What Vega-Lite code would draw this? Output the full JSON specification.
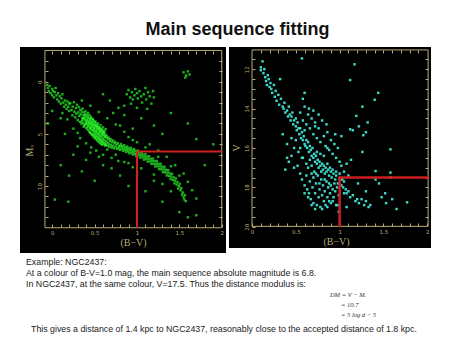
{
"$schema":"https://vega.github.io/schema/vega-lite/v6.json",
"background":"white",
"padding":{"left":20,"top":21,"right":0,"bottom":0},
"title":{"text":"Main sequence fitting","font":"Liberation Sans","fontSize":18,"fontWeight":"bold","color":"#111","anchor":"middle","dx":12,"offset":8},
"config":{"view":{"stroke":null},"axis":{"labelColor":"#b9ad74","tickColor":"#b9ad74","titleColor":"#b9ad74","labelFont":"DejaVu Sans","labelFontSize":5.5,"titleFont":"Liberation Serif","titleFontSize":10,"titleFontWeight":"normal","grid":false,"domain":false}},
"datasets":{
"L":[{"x":-0.06,"y":0.3},{"x":-0.05,"y":0.6},{"x":-0.04,"y":0.9},{"x":-0.03,"y":0.4},{"x":-0.02,"y":1.1},{"x":0.0,"y":0.7},{"x":0.0,"y":1.3},{"x":0.01,"y":0.9},{"x":0.02,"y":1.5},{"x":0.03,"y":1.0},{"x":0.04,"y":0.6},{"x":0.05,"y":1.3},{"x":0.06,"y":1.7},{"x":0.07,"y":1.1},{"x":0.08,"y":1.9},{"x":0.09,"y":1.4},{"x":0.1,"y":2.1},{"x":0.11,"y":1.6},{"x":0.12,"y":1.2},{"x":0.13,"y":2.0},{"x":0.14,"y":2.4},{"x":0.15,"y":1.8},{"x":0.16,"y":2.2},{"x":0.17,"y":2.6},{"x":0.18,"y":1.9},{"x":0.19,"y":2.4},{"x":0.2,"y":2.8},{"x":0.2,"y":2.1},
{"x":0.213,"y":2.05},{"x":0.227,"y":2.71},{"x":0.238,"y":3.22},{"x":0.241,"y":2.38},{"x":0.256,"y":1.96},{"x":0.262,"y":2.87},{"x":0.271,"y":3.41},{"x":0.279,"y":2.52},{"x":0.284,"y":3.06},{"x":0.293,"y":2.21},{"x":0.301,"y":3.67},{"x":0.308,"y":2.94},{"x":0.312,"y":2.43},{"x":0.319,"y":3.28},{"x":0.326,"y":3.85},{"x":0.331,"y":2.69},{"x":0.337,"y":3.12},{"x":0.344,"y":4.02},{"x":0.349,"y":2.87},{"x":0.353,"y":3.49},{"x":0.358,"y":2.58},{"x":0.362,"y":3.93},{"x":0.367,"y":3.21},{"x":0.371,"y":4.31},{"x":0.376,"y":2.95},{"x":0.381,"y":3.62},{"x":0.384,"y":4.12},{"x":0.389,"y":3.37},{"x":0.393,"y":2.84},{"x":0.397,"y":3.81},{"x":0.402,"y":4.45},{"x":0.405,"y":3.15},{"x":0.409,"y":3.72},{"x":0.413,"y":4.08},{"x":0.417,"y":3.44},{"x":0.421,"y":4.61},{"x":0.424,"y":2.99},{"x":0.428,"y":3.88},{"x":0.431,"y":4.27},{"x":0.435,"y":3.53},{"x":0.438,"y":4.79},{"x":0.441,"y":3.21},{"x":0.445,"y":4.02},{"x":0.448,"y":4.43},{"x":0.452,"y":3.68},{"x":0.455,"y":4.95},{"x":0.458,"y":3.39},{"x":0.461,"y":4.17},{"x":0.464,"y":4.58},{"x":0.467,"y":3.84},{"x":0.471,"y":5.12},{"x":0.474,"y":3.57},{"x":0.477,"y":4.33},{"x":0.48,"y":4.71},{"x":0.483,"y":3.99},{"x":0.486,"y":5.26},{"x":0.489,"y":3.74},{"x":0.492,"y":4.49},{"x":0.495,"y":4.87},{"x":0.498,"y":4.12},{"x":0.501,"y":5.38},{"x":0.504,"y":3.89},{"x":0.507,"y":4.62},{"x":0.51,"y":5.02},{"x":0.513,"y":4.27},{"x":0.516,"y":5.51},{"x":0.519,"y":4.03},{"x":0.522,"y":4.78},{"x":0.525,"y":5.15},{"x":0.528,"y":4.41},{"x":0.531,"y":5.63},{"x":0.534,"y":4.19},{"x":0.537,"y":4.93},{"x":0.54,"y":5.29},{"x":0.543,"y":4.56},{"x":0.546,"y":5.74},{"x":0.549,"y":4.35},{"x":0.552,"y":5.06},{"x":0.555,"y":5.41},{"x":0.558,"y":4.71},{"x":0.561,"y":5.86},{"x":0.564,"y":4.48},{"x":0.567,"y":5.19},{"x":0.57,"y":5.55},{"x":0.573,"y":4.84},{"x":0.576,"y":5.97},{"x":0.579,"y":4.63},{"x":0.582,"y":5.33},{"x":0.585,"y":5.67},{"x":0.588,"y":4.98},{"x":0.592,"y":6.05},{"x":0.595,"y":4.78},{"x":0.598,"y":5.46},{"x":0.602,"y":5.79},{"x":0.605,"y":5.11},{"x":0.609,"y":4.92},{"x":0.613,"y":5.58},{"x":0.617,"y":5.91},{"x":0.621,"y":5.24},{"x":0.625,"y":6.12},{"x":0.629,"y":5.07},{"x":0.633,"y":5.71},{"x":0.637,"y":6.01},{"x":0.641,"y":5.38},{"x":0.645,"y":5.22},{"x":0.65,"y":5.83},{"x":0.655,"y":6.15},{"x":0.66,"y":5.52},{"x":0.665,"y":5.36},{"x":0.67,"y":5.95},{"x":0.676,"y":6.23},{"x":0.682,"y":5.66},{"x":0.688,"y":5.49},{"x":0.694,"y":6.06},{"x":0.7,"y":6.31},{"x":0.707,"y":5.79},{"x":0.714,"y":5.62},{"x":0.721,"y":6.16},{"x":0.728,"y":6.39},{"x":0.735,"y":5.91},{"x":0.742,"y":5.76},{"x":0.75,"y":6.26},{"x":0.758,"y":6.02},{"x":0.766,"y":6.44},{"x":0.774,"y":5.88},{"x":0.782,"y":6.35},{"x":0.79,"y":6.13},{"x":0.798,"y":6.52},
{"x":0.352,"y":3.74},{"x":0.366,"y":3.58},{"x":0.378,"y":4.21},{"x":0.391,"y":4.05},{"x":0.404,"y":3.92},{"x":0.416,"y":4.36},{"x":0.427,"y":4.14},{"x":0.439,"y":3.96},{"x":0.451,"y":4.52},{"x":0.462,"y":4.31},{"x":0.473,"y":4.09},{"x":0.484,"y":4.66},{"x":0.496,"y":4.44},{"x":0.508,"y":4.23},{"x":0.519,"y":4.83},{"x":0.531,"y":4.57},{"x":0.542,"y":4.37},{"x":0.553,"y":4.97},{"x":0.565,"y":4.74},{"x":0.576,"y":4.52},{"x":0.588,"y":5.12},{"x":0.599,"y":4.89},{"x":0.611,"y":4.69},{"x":0.622,"y":5.28},{"x":0.373,"y":3.45},{"x":0.388,"y":3.17},{"x":0.407,"y":3.61},{"x":0.419,"y":3.29},{"x":0.436,"y":3.77},{"x":0.449,"y":3.51},{"x":0.466,"y":3.94},{"x":0.479,"y":3.63},{"x":0.493,"y":4.16},{"x":0.511,"y":3.82},{"x":0.526,"y":4.29},{"x":0.541,"y":4.01},{"x":0.556,"y":4.47},{"x":0.571,"y":4.18},{"x":0.586,"y":4.66},{"x":0.601,"y":4.38},{"x":0.616,"y":4.84},{"x":0.632,"y":4.55},{"x":0.447,"y":4.87},{"x":0.469,"y":5.02},{"x":0.489,"y":5.09},{"x":0.506,"y":5.24},{"x":0.523,"y":5.33},{"x":0.547,"y":5.47},{"x":0.566,"y":5.61},{"x":0.583,"y":5.79},{"x":0.603,"y":5.93},{"x":0.628,"y":6.08},
{"x":0.803,"y":6.21},{"x":0.812,"y":5.97},{"x":0.819,"y":6.43},{"x":0.826,"y":6.18},{"x":0.834,"y":6.62},{"x":0.841,"y":6.35},{"x":0.849,"y":6.09},{"x":0.856,"y":6.54},{"x":0.864,"y":6.28},{"x":0.871,"y":6.73},{"x":0.879,"y":6.47},{"x":0.887,"y":6.22},{"x":0.894,"y":6.66},{"x":0.902,"y":6.41},{"x":0.91,"y":6.86},{"x":0.918,"y":6.59},{"x":0.926,"y":6.34},{"x":0.934,"y":6.79},{"x":0.942,"y":6.53},{"x":0.95,"y":6.98},{"x":0.958,"y":6.71},{"x":0.967,"y":6.46},{"x":0.975,"y":6.92},{"x":0.983,"y":6.66},{"x":0.991,"y":7.11},{"x":1.0,"y":6.84},{"x":1.009,"y":6.6},{"x":1.018,"y":7.06},{"x":1.027,"y":6.8},{"x":1.036,"y":7.27},{"x":1.045,"y":7.01},{"x":1.054,"y":6.77},{"x":1.063,"y":7.24},{"x":1.072,"y":6.98},{"x":1.081,"y":7.46},{"x":1.09,"y":7.2},{"x":1.099,"y":6.95},{"x":1.108,"y":7.43},{"x":1.117,"y":7.17},{"x":1.126,"y":7.66},{"x":1.135,"y":7.4},{"x":1.144,"y":7.15},{"x":1.153,"y":7.64},{"x":1.162,"y":7.38},{"x":1.171,"y":7.88},{"x":1.18,"y":7.62},{"x":1.189,"y":7.37},{"x":1.198,"y":7.87},{"x":1.207,"y":7.61},{"x":1.216,"y":8.12},{"x":1.225,"y":7.86},{"x":1.234,"y":7.6},{"x":1.243,"y":8.11},{"x":1.252,"y":7.86},{"x":1.261,"y":8.38},{"x":1.27,"y":8.12},{"x":1.279,"y":7.87},{"x":1.288,"y":8.39},{"x":1.297,"y":8.14},{"x":1.306,"y":8.67},{"x":1.315,"y":8.41},{"x":1.324,"y":8.16},{"x":1.333,"y":8.69},{"x":1.342,"y":8.44},{"x":1.351,"y":8.98},{"x":1.36,"y":8.72},{"x":1.369,"y":8.48},{"x":1.378,"y":9.03},{"x":1.387,"y":8.78},{"x":1.396,"y":9.33},{"x":1.405,"y":9.08},{"x":1.414,"y":8.84},{"x":1.423,"y":9.41},{"x":1.432,"y":9.17},{"x":1.441,"y":9.74},{"x":1.45,"y":9.5},{"x":1.459,"y":9.27},{"x":1.468,"y":9.86},{"x":1.477,"y":9.63},{"x":1.486,"y":10.23},{"x":1.495,"y":10.01},{"x":1.504,"y":9.79},{"x":1.513,"y":10.41},{"x":1.522,"y":10.2},{"x":1.531,"y":10.82},{"x":1.54,"y":10.62},{"x":1.549,"y":11.05},{"x":1.558,"y":11.28},{"x":1.566,"y":10.87},{"x":1.575,"y":11.45},
{"x":0.25,"y":4.5},{"x":0.3,"y":4.9},{"x":0.33,"y":5.4},{"x":0.4,"y":5.9},{"x":0.46,"y":6.3},{"x":0.52,"y":6.6},{"x":0.6,"y":7.0},{"x":0.7,"y":7.3},{"x":0.18,"y":3.6},{"x":0.12,"y":3.0},{"x":0.35,"y":1.8},{"x":0.45,"y":2.3},{"x":0.55,"y":2.9},{"x":0.65,"y":3.5},{"x":0.75,"y":4.1},{"x":0.85,"y":4.8},{"x":0.95,"y":5.6},{"x":1.1,"y":6.3},{"x":1.25,"y":7.2},{"x":1.4,"y":8.1},{"x":1.5,"y":9.0},{"x":1.3,"y":9.8},{"x":1.2,"y":8.9},{"x":1.05,"y":8.3},{"x":0.9,"y":7.8},{"x":0.78,"y":7.6},
{"x":0.88,"y":1.2},{"x":0.9,"y":0.8},{"x":0.92,"y":1.5},{"x":0.94,"y":1.0},{"x":0.95,"y":1.7},{"x":0.97,"y":1.3},{"x":0.98,"y":0.7},{"x":1.0,"y":1.1},{"x":1.01,"y":1.6},{"x":1.03,"y":0.9},{"x":1.05,"y":1.4},{"x":1.06,"y":2.0},{"x":1.08,"y":1.2},{"x":1.1,"y":0.6},{"x":1.11,"y":1.7},{"x":1.13,"y":1.0},{"x":1.15,"y":1.4},{"x":1.17,"y":2.1},{"x":1.19,"y":0.9},{"x":1.2,"y":1.5},{"x":0.85,"y":2.3},{"x":1.0,"y":2.5},{"x":1.12,"y":2.6},{"x":0.93,"y":2.1},
{"x":1.55,"y":-0.9},{"x":1.58,"y":-0.6},{"x":1.6,"y":-1.0},{"x":1.62,"y":-0.7},{"x":1.57,"y":-0.4},
{"x":0.03,"y":11.3},{"x":0.19,"y":11.5},{"x":0.3,"y":6.2},{"x":0.25,"y":7.0},{"x":0.4,"y":7.5},{"x":0.45,"y":6.8},{"x":0.55,"y":7.2},{"x":0.6,"y":8.0},{"x":0.7,"y":8.3},{"x":0.5,"y":9.5},{"x":0.8,"y":9.0},{"x":0.9,"y":10.0},{"x":1.1,"y":10.5},{"x":1.3,"y":11.5},{"x":1.5,"y":12.5},{"x":1.7,"y":12.8},{"x":0.35,"y":8.6},{"x":1.8,"y":8.0},{"x":1.9,"y":6.0},{"x":1.7,"y":5.5},{"x":1.6,"y":4.0},{"x":1.4,"y":3.0},{"x":1.3,"y":5.0},{"x":1.2,"y":4.2},{"x":1.05,"y":3.5},{"x":0.95,"y":4.5},{"x":0.85,"y":3.2},{"x":0.78,"y":2.5},{"x":0.68,"y":1.8},{"x":0.6,"y":1.2},{"x":0.72,"y":3.0},{"x":0.8,"y":4.2},{"x":0.9,"y":5.3},{"x":1.0,"y":5.8},{"x":1.15,"y":6.0},{"x":1.25,"y":6.6},{"x":1.35,"y":7.2},{"x":1.45,"y":8.0},{"x":1.55,"y":8.8},{"x":1.6,"y":9.6},{"x":1.65,"y":10.4},{"x":1.7,"y":11.2},{"x":0.15,"y":5.0},{"x":0.1,"y":3.5},{"x":0.0,"y":2.8},{"x":-0.05,"y":4.0},{"x":0.65,"y":6.5},{"x":0.75,"y":7.0},{"x":0.85,"y":7.7},{"x":0.95,"y":8.2},{"x":1.0,"y":9.0},{"x":1.2,"y":9.5},{"x":1.4,"y":10.5},{"x":1.6,"y":13.0},{"x":0.2,"y":9.0},{"x":0.1,"y":8.0}],
"R":[{"x":0.10,"y":11.9},{"x":0.10,"y":12.05},{"x":0.12,"y":11.6},{"x":0.13,"y":12.2},{"x":0.14,"y":12.0},{"x":0.15,"y":12.4},{"x":0.16,"y":12.6},{"x":0.18,"y":12.3},{"x":0.17,"y":12.8},{"x":0.19,"y":12.5},{"x":0.20,"y":12.9},{"x":0.22,"y":13.0},{"x":0.21,"y":12.7},{"x":0.23,"y":13.2},{"x":0.25,"y":12.8},{"x":0.26,"y":13.4},{"x":0.27,"y":13.1},{"x":0.28,"y":13.6},{"x":0.30,"y":13.3},{"x":0.32,"y":12.5},{"x":0.31,"y":13.8},{"x":0.33,"y":13.5},{"x":0.35,"y":13.9},{"x":0.36,"y":14.0},{"x":0.37,"y":13.7},{"x":0.38,"y":14.2},{"x":0.40,"y":14.1},{"x":0.41,"y":14.4},{"x":0.42,"y":13.9},{"x":0.43,"y":14.3},{"x":0.44,"y":14.6},{"x":0.45,"y":14.4},{"x":0.46,"y":14.2},{"x":0.47,"y":14.8},{"x":0.48,"y":14.6},{"x":0.50,"y":14.5},{"x":0.50,"y":14.9},{"x":0.51,"y":15.1},{"x":0.52,"y":14.7},{"x":0.53,"y":15.0},{"x":0.54,"y":15.3},{"x":0.55,"y":15.0},{"x":0.56,"y":15.5},{"x":0.57,"y":15.2},{"x":0.58,"y":15.6},{"x":0.59,"y":15.4},{"x":0.60,"y":15.8},{"x":0.60,"y":15.1},{"x":0.61,"y":15.9},{"x":0.62,"y":15.6},{"x":0.63,"y":16.0},{"x":0.64,"y":15.7},{"x":0.65,"y":16.2},{"x":0.66,"y":15.9},{"x":0.67,"y":16.1},{"x":0.68,"y":16.4},{"x":0.69,"y":16.0},{"x":0.70,"y":16.5},{"x":0.71,"y":16.3},{"x":0.72,"y":16.7},{"x":0.73,"y":16.4},{"x":0.74,"y":16.8},{"x":0.75,"y":16.6},{"x":0.76,"y":17.0},{"x":0.77,"y":16.7},{"x":0.78,"y":16.9},{"x":0.79,"y":17.2},{"x":0.80,"y":16.8},{"x":0.81,"y":17.1},{"x":0.82,"y":16.9},{"x":0.83,"y":17.3},{"x":0.84,"y":17.0},{"x":0.85,"y":17.2},{"x":0.86,"y":16.8},{"x":0.87,"y":17.1},{"x":0.88,"y":17.4},{"x":0.89,"y":17.0},{"x":0.90,"y":17.2},{"x":0.91,"y":17.5},{"x":0.92,"y":17.1},{"x":0.93,"y":17.3},{"x":0.95,"y":17.6},{"x":0.96,"y":17.4},{"x":0.98,"y":17.8},{"x":1.00,"y":17.6},{"x":1.02,"y":17.9},{"x":1.04,"y":18.0},{"x":1.05,"y":17.7},{"x":1.07,"y":18.1},{"x":1.08,"y":18.3},{"x":1.10,"y":18.2},{"x":1.12,"y":18.5},{"x":1.15,"y":18.4},{"x":1.18,"y":18.7},{"x":1.20,"y":18.6},{"x":1.22,"y":18.8},{"x":1.25,"y":18.6},{"x":1.28,"y":18.9},{"x":1.30,"y":18.7},{"x":1.33,"y":19.0},{"x":1.35,"y":18.9},
{"x":1.17,"y":11.75},{"x":1.12,"y":12.55},{"x":1.44,"y":13.2},{"x":1.40,"y":13.55},{"x":1.26,"y":13.9},{"x":1.19,"y":14.37},{"x":1.22,"y":14.9},{"x":1.32,"y":14.7},{"x":1.12,"y":15.05},{"x":1.15,"y":15.1},{"x":1.30,"y":15.2},{"x":1.27,"y":15.35},{"x":1.02,"y":15.4},{"x":1.58,"y":16.07},{"x":1.26,"y":16.2},{"x":1.13,"y":16.6},{"x":1.41,"y":17.17},{"x":1.58,"y":17.25},{"x":1.58,"y":17.5},{"x":1.41,"y":17.6},{"x":1.45,"y":17.8},{"x":1.21,"y":17.8},{"x":1.30,"y":18.2},{"x":1.52,"y":18.3},{"x":1.48,"y":18.5},{"x":1.53,"y":18.8},{"x":1.60,"y":18.6},{"x":1.77,"y":18.76},{"x":1.65,"y":19.1},{"x":0.98,"y":18.9},{"x":0.99,"y":19.24},{"x":1.05,"y":18.3},{"x":1.08,"y":19.0},{"x":0.57,"y":11.45},
{"x":0.38,"y":17.1},{"x":0.42,"y":16.7},{"x":0.45,"y":16.4},{"x":0.48,"y":17.0},{"x":0.52,"y":16.9},{"x":0.55,"y":17.3},{"x":0.57,"y":17.6},{"x":0.58,"y":16.5},{"x":0.60,"y":17.9},{"x":0.62,"y":17.4},{"x":0.63,"y":18.1},{"x":0.64,"y":17.0},{"x":0.65,"y":18.3},{"x":0.66,"y":17.7},{"x":0.67,"y":18.6},{"x":0.68,"y":16.9},{"x":0.69,"y":18.0},{"x":0.70,"y":17.5},{"x":0.70,"y":18.8},{"x":0.71,"y":17.2},{"x":0.72,"y":18.3},{"x":0.73,"y":17.8},{"x":0.74,"y":18.9},{"x":0.75,"y":17.4},{"x":0.76,"y":18.5},{"x":0.77,"y":18.1},{"x":0.78,"y":19.0},{"x":0.79,"y":17.6},{"x":0.80,"y":18.4},{"x":0.81,"y":17.9},{"x":0.82,"y":18.7},{"x":0.83,"y":18.2},{"x":0.84,"y":18.9},{"x":0.85,"y":17.7},{"x":0.86,"y":18.5},{"x":0.87,"y":18.0},{"x":0.88,"y":18.7},{"x":0.89,"y":18.3},{"x":0.90,"y":17.9},{"x":0.90,"y":18.8},{"x":0.92,"y":18.1},{"x":0.93,"y":18.5},{"x":0.94,"y":17.8},{"x":0.95,"y":18.2},{"x":0.96,"y":18.9},{"x":0.97,"y":18.0},{"x":0.99,"y":18.4},
{"x":0.55,"y":14.2},{"x":0.58,"y":14.6},{"x":0.60,"y":13.9},{"x":0.62,"y":14.8},{"x":0.64,"y":14.3},{"x":0.66,"y":15.0},{"x":0.68,"y":14.5},{"x":0.70,"y":15.3},{"x":0.72,"y":14.9},{"x":0.74,"y":15.5},{"x":0.76,"y":15.0},{"x":0.78,"y":15.7},{"x":0.80,"y":14.6},{"x":0.82,"y":15.4},{"x":0.84,"y":15.9},{"x":0.86,"y":15.2},{"x":0.88,"y":16.1},{"x":0.90,"y":15.6},{"x":0.92,"y":16.3},{"x":0.94,"y":15.8},{"x":0.96,"y":16.5},{"x":0.98,"y":16.0},{"x":0.60,"y":13.2},{"x":0.58,"y":13.5},{"x":0.70,"y":14.1},{"x":0.76,"y":14.3},{"x":0.85,"y":14.8},{"x":0.95,"y":15.3},{"x":1.00,"y":16.7},{"x":1.02,"y":16.9},{"x":1.05,"y":17.2},{"x":1.08,"y":16.8},{"x":1.10,"y":17.4},{"x":0.65,"y":14.0},{"x":0.72,"y":14.7},
{"x":0.35,"y":15.3},{"x":0.40,"y":15.8},{"x":0.45,"y":15.5},{"x":0.48,"y":16.0},{"x":0.50,"y":15.6},{"x":0.53,"y":16.2},{"x":0.55,"y":16.0},{"x":0.57,"y":16.5},{"x":0.40,"y":16.5},{"x":0.62,"y":16.8},{"x":0.66,"y":16.6},{"x":0.74,"y":16.2},{"x":0.78,"y":16.3},{"x":0.82,"y":16.4},{"x":0.86,"y":16.0},{"x":0.68,"y":17.3},{"x":0.73,"y":17.3},{"x":0.77,"y":17.8},{"x":0.83,"y":17.6},{"x":0.88,"y":17.8},{"x":0.60,"y":18.3},{"x":0.64,"y":18.5},{"x":0.68,"y":18.9},{"x":0.72,"y":19.1},{"x":0.80,"y":19.1},{"x":0.86,"y":19.0},{"x":0.92,"y":18.7},{"x":0.96,"y":17.2},{"x":1.00,"y":17.3},{"x":1.03,"y":17.6}],
"TXT":[{"t":"Example: NGC2437:","c":0.0146,"r":0.82},{"t":"At a colour of B-V=1.0 mag, the main sequence absolute magnitude is 6.8.","c":0.0146,"r":1.82},{"t":"In NGC2437, at the same colour,  V=17.5.  Thus the distance modulus is:","c":0.0146,"r":2.82},{"t":"This gives a distance of 1.4 kpc to NGC2437, reasonably close to the accepted distance of 1.8 kpc.","c":0.0268,"r":6.91}],
"EQ":[{"t":"DM = V − Mᵥ","c":0.754,"r":3.82},{"t":"= 10.7","c":0.781,"r":4.73},{"t":"= 5 log d − 5","c":0.781,"r":5.64}]
},
"spacing":0,
"vconcat":[
{"hconcat":[
{"width":206,"height":206,"view":{"fill":"#000","stroke":null},
"layer":[
{"data":{"values":[{"x":-0.086,"x2":2.0,"y":-3,"y2":14}]},"mark":{"type":"rect","fill":null,"stroke":"#b9ad74","strokeWidth":1},
"encoding":{"x":{"field":"x","type":"quantitative","scale":{"domain":[-0.38,2.05],"nice":false,"zero":false},"axis":{"orient":"top","offset":-4,"values":[0,0.1,0.2,0.3,0.4,0.5,0.6,0.7,0.8,0.9,1,1.1,1.2,1.3,1.4,1.5,1.6,1.7,1.8,1.9],"labels":false,"title":null,"tickSize":-3}},"x2":{"field":"x2"},
"y":{"field":"y","type":"quantitative","scale":{"domain":[-3.33,16.42],"reverse":true,"nice":false,"zero":false},"axis":{"orient":"right","offset":-4,"values":[-2,-1,0,1,2,3,4,5,6,7,8,9,10,11,12,13],"labels":false,"title":null,"tickSize":-3}},"y2":{"field":"y2"}}},
{"data":{"name":"L"},"mark":{"type":"square","size":6,"color":"#2af52a","opacity":0.7},
"encoding":{"x":{"field":"x","type":"quantitative","axis":{"orient":"bottom","offset":-26,"values":[0,0.1,0.2,0.3,0.4,0.5,0.6,0.7,0.8,0.9,1,1.1,1.2,1.3,1.4,1.5,1.6,1.7,1.8,1.9,2],"format":"~g","labelExpr":"abs(datum.value*2-round(datum.value*2))<0.001 ? datum.label : ''","tickSize":-3,"labelPadding":6,"title":"(B−V)","titlePadding":2,"titleX":113}},
"y":{"field":"y","type":"quantitative","axis":{"orient":"left","offset":-25,"values":[-2,-1,0,1,2,3,4,5,6,7,8,9,10,11,12,13],"format":"d","labelExpr":"datum.value%5==0 ? datum.label : ''","tickSize":-3,"labelPadding":6,"labelAngle":270,"labelAlign":"center","labelBaseline":"bottom","title":"Mᵥ","titlePadding":3}}}},
{"data":{"values":[{"x":1,"x2":2.0,"y":6.7,"y2":6.7},{"x":1,"x2":1,"y":6.7,"y2":14}]},"mark":{"type":"rule","color":"#d42020","strokeWidth":2},
"encoding":{"x":{"field":"x","type":"quantitative","axis":null},"x2":{"field":"x2"},"y":{"field":"y","type":"quantitative","axis":null},"y2":{"field":"y2"}}}
]},
{"width":202,"height":201,"view":{"fill":"#000","stroke":null},
"layer":[
{"data":{"values":[{"x":0,"x2":2.01,"y":11.02,"y2":19.98}]},"mark":{"type":"rect","fill":null,"stroke":"#b9ad74","strokeWidth":1},
"encoding":{"x":{"field":"x","type":"quantitative","scale":{"domain":[-0.263,2.043],"nice":false,"zero":false},"axis":{"orient":"top","offset":-3,"values":[0.1,0.2,0.3,0.4,0.5,0.6,0.7,0.8,0.9,1,1.1,1.2,1.3,1.4,1.5,1.6,1.7,1.8,1.9],"labels":false,"title":null,"tickSize":-3}},"x2":{"field":"x2"},
"y":{"field":"y","type":"quantitative","scale":{"domain":[10.87,21.08],"reverse":true,"nice":false,"zero":false},"axis":{"orient":"right","offset":-3,"values":[11.5,12,12.5,13,13.5,14,14.5,15,15.5,16,16.5,17,17.5,18,18.5,19,19.5],"labels":false,"title":null,"tickSize":-3}},"y2":{"field":"y2"}}},
{"data":{"name":"R"},"mark":{"type":"square","size":6,"color":"#3fe3d2","opacity":0.95},
"encoding":{"x":{"field":"x","type":"quantitative","axis":{"orient":"bottom","offset":-22,"values":[0,0.1,0.2,0.3,0.4,0.5,0.6,0.7,0.8,0.9,1,1.1,1.2,1.3,1.4,1.5,1.6,1.7,1.8,1.9,2],"format":"~g","labelExpr":"abs(datum.value*2-round(datum.value*2))<0.001 ? datum.label : ''","tickSize":-3,"labelPadding":6,"title":"(B−V)","titlePadding":2,"titleX":107}},
"y":{"field":"y","type":"quantitative","axis":{"orient":"left","offset":-23,"values":[11.5,12,12.5,13,13.5,14,14.5,15,15.5,16,16.5,17,17.5,18,18.5,19,19.5,20],"format":"~g","labelExpr":"datum.value%2==0 ? datum.label : ''","tickSize":-3,"labelPadding":6,"labelAngle":270,"labelAlign":"center","labelBaseline":"bottom","title":"V","titlePadding":3}}}},
{"data":{"values":[{"x":1,"x2":2.01,"y":17.5,"y2":17.5},{"x":1,"x2":1,"y":17.5,"y2":19.98}]},"mark":{"type":"rule","color":"#cc1e1e","strokeWidth":2.5,"strokeCap":"round"},
"encoding":{"x":{"field":"x","type":"quantitative","axis":null},"x2":{"field":"x2"},"y":{"field":"y","type":"quantitative","axis":null},"y2":{"field":"y2"}}}
]}
],"spacing":3},
{"width":411,"height":88,"view":{"fill":null,"stroke":null},
"layer":[
{"data":{"name":"TXT"},"mark":{"type":"text","align":"left","baseline":"middle","font":"Liberation Sans","fontSize":8.8,"color":"#1a1a1a"},
"encoding":{"x":{"field":"c","type":"quantitative","scale":{"domain":[0,1],"nice":false,"zero":false},"axis":null},"y":{"field":"r","type":"quantitative","scale":{"domain":[0,8],"nice":false,"zero":false,"reverse":true},"axis":null},"text":{"field":"t"}}},
{"data":{"name":"EQ"},"mark":{"type":"text","align":"left","baseline":"middle","font":"Liberation Serif","fontStyle":"italic","fontSize":6.5,"color":"#333"},
"encoding":{"x":{"field":"c","type":"quantitative"},"y":{"field":"r","type":"quantitative"},"text":{"field":"t"}}}
]}
]
}
